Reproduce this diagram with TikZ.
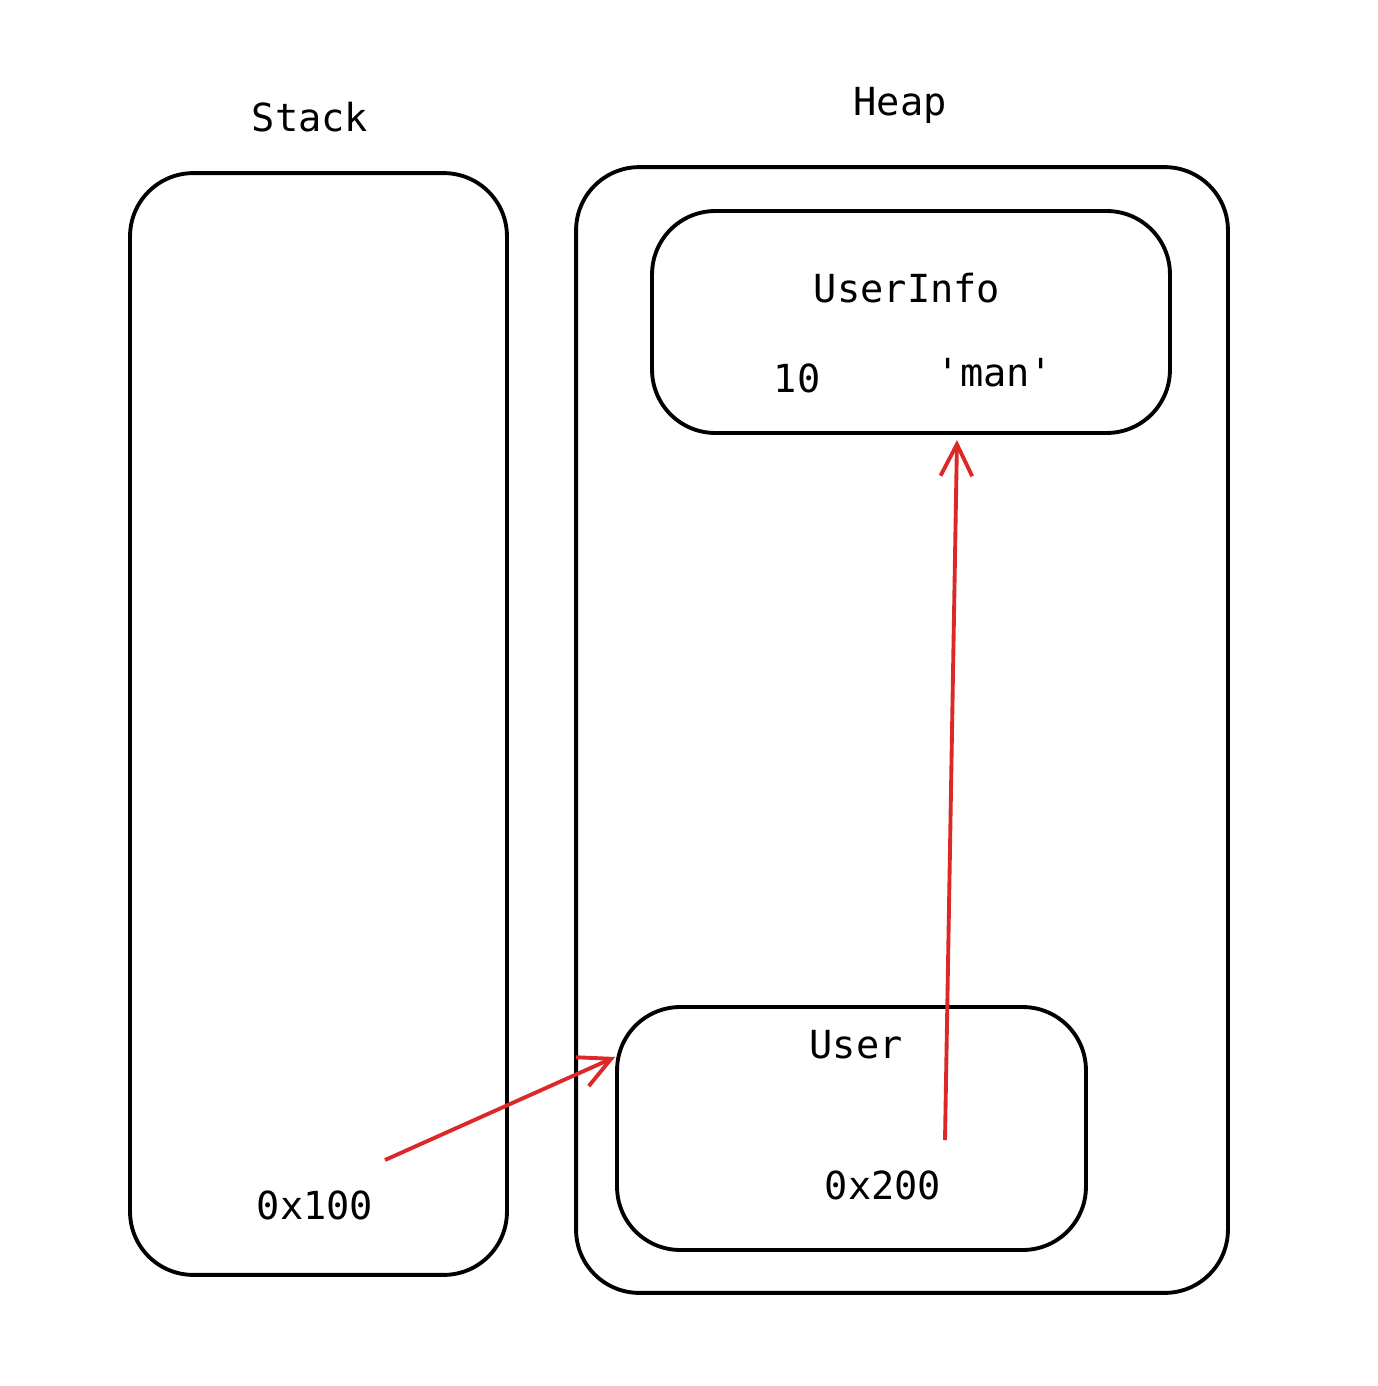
\documentclass[tikz,border=0pt]{standalone}
\usepackage{fontspec}
\setmainfont{DejaVu Sans Mono}
\usetikzlibrary{positioning, arrows.meta}
\definecolor{ptrred}{RGB}{220,40,40}
\begin{document}
\begin{tikzpicture}[x=0.02cm, y=-0.02cm,
    box/.style={draw, line width=2.2pt, rounded corners=36pt, inner sep=0pt},
    lbl/.style={font=\fontsize{22}{26}\selectfont},
    ptr/.style={draw=ptrred, line width=2.2pt, -{Straight Barb[length=18pt, width=18pt]}}]
        % Canvas
        \useasboundingbox (0,0) rectangle (1378,1386);

        % Memory regions
        \node[box, minimum width=7.54cm, minimum height=22.04cm] (stack) at (318.5,724) {};
        \node[box, minimum width=13.04cm, minimum height=22.52cm] (heap) at (902,730) {};
        \node[lbl] (stacklbl) at (310,117) {Stack};
        \node[lbl] (heaplbl) at (900,105) {Heap};

        % Objects on the heap
        \node[box, minimum width=10.36cm, minimum height=4.44cm] (userinfo) at (911,322) {};
        \node[box, minimum width=9.38cm, minimum height=4.86cm] (user) at (851.5,1128.5) {};
        \node[lbl] (uinfolbl) at (907,288) {UserInfo};
        \node[lbl] (age) at (797,378) {10};
        \node[lbl] (name) at (995,373) {\textquotesingle man\textquotesingle};
        \node[lbl] (userlbl) at (856,1045) {User};
        \node[lbl] (addr2) at (883,1185) {0x200};
        \node[lbl] (addr1) at (315,1205) {0x100};

        % References
        \coordinate (p1) at (385,1160);
        \coordinate (p2) at (945,1140);
        \draw[ptr] (p1) -- (user.west |- 0,1057);
        \draw[ptr] (p2) -- (957,440);
\end{tikzpicture}
\end{document}
